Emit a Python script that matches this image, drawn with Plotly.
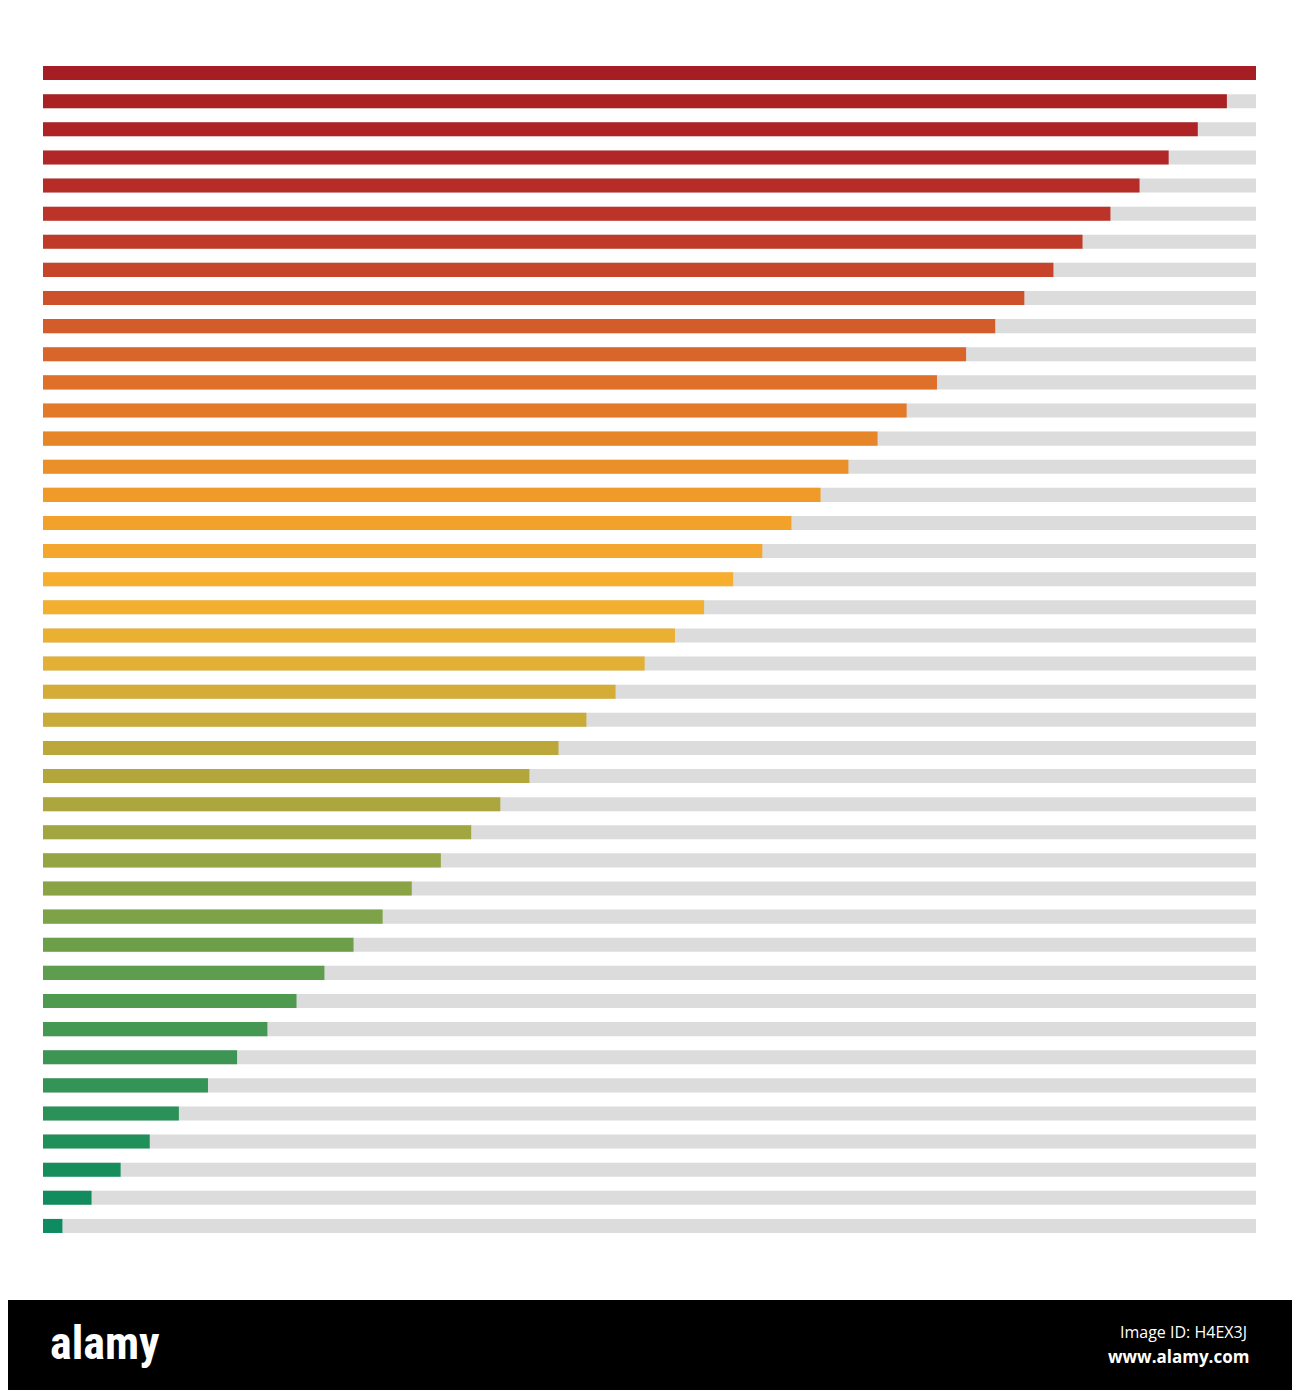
import plotly.graph_objects as go

# Data (top to bottom), percent of full length
labels = [f"Bar {i}" for i in range(1, 43)]
values = [100, 97.6, 95.2, 92.8, 90.4, 88.0, 85.7, 83.3, 80.9, 78.5,
          76.1, 73.7, 71.2, 68.8, 66.4, 64.1, 61.7, 59.3, 56.9, 54.5,
          52.1, 49.6, 47.2, 44.8, 42.5, 40.1, 37.7, 35.3, 32.8, 30.4,
          28.0, 25.6, 23.2, 20.9, 18.5, 16.0, 13.6, 11.2, 8.8, 6.4,
          4.0, 1.6]
full = [100] * len(values)

# colour stops keyed by bar index (0 = top bar)
stops = [(0, (166, 30, 35)), (3, (177, 38, 39)), (6, (192, 58, 42)),
         (9, (211, 92, 43)), (12, (227, 122, 41)), (15, (239, 154, 41)),
         (18, (247, 174, 46)), (19, (243, 176, 48)), (21, (225, 176, 52)),
         (24, (188, 168, 58)), (27, (162, 166, 64)), (30, (125, 162, 72)),
         (33, (78, 154, 79)), (36, (52, 147, 87)), (39, (22, 142, 92)),
         (41, (14, 139, 96))]

def colour(i):
    for (p0, c0), (p1, c1) in zip(stops, stops[1:]):
        if p0 <= i <= p1:
            f = (i - p0) / (p1 - p0)
            c = [round(a + (b - a) * f) for a, b in zip(c0, c1)]
            return f"rgb({c[0]},{c[1]},{c[2]})"
    return "rgb(14,139,96)"

n = len(values)
colors = [colour(i) for i in range(n)]

fig = go.Figure()
fig.add_trace(go.Bar(y=labels, x=full, orientation="h",
                     marker=dict(color="#dcdcdc", line=dict(width=0)),
                     hoverinfo="skip", showlegend=False))
fig.add_trace(go.Bar(y=labels, x=values, orientation="h",
                     marker=dict(color=colors, line=dict(width=0)),
                     showlegend=False))

# page is offset by 8px body margin
OFF = 8
W, H = 1300 - OFF, 1390 - OFF
ml, mt = 43 - OFF, 59 - OFF
mr = W - (1256 - OFF)
mb = H - (1240 - OFF)
pw, ph = W - ml - mr, H - mt - mb

def px(x):
    return (x - OFF - ml) / pw

def py(y):
    return (H - mb - (y - OFF)) / ph

fig.update_layout(
    width=W, height=H,
    margin=dict(l=ml, r=mr, t=mt, b=mb, pad=0),
    paper_bgcolor="white", plot_bgcolor="white",
    barmode="overlay", bargap=0.5,
    xaxis=dict(range=[0, 100], visible=False, fixedrange=True),
    yaxis=dict(autorange="reversed", visible=False, type="category"),
    shapes=[dict(type="rect", xref="paper", yref="paper",
                 x0=px(0), x1=px(1300), y0=py(1300), y1=py(1390),
                 fillcolor="black", line=dict(width=0), layer="above")],
    annotations=[
        dict(xref="paper", yref="paper", x=px(48), y=py(1343), xanchor="left",
             yanchor="middle", showarrow=False, text="<b>alamy</b>",
             font=dict(family="Liberation Sans Narrow, Roboto Condensed, Arial Narrow, sans-serif",
                       size=46, color="white")),
        dict(xref="paper", yref="paper", x=px(1249), y=py(1332), xanchor="right",
             yanchor="middle", showarrow=False, text="Image ID: H4EX3J",
             font=dict(family="Open Sans, sans-serif", size=16, color="white")),
        dict(xref="paper", yref="paper", x=px(1251), y=py(1356), xanchor="right",
             yanchor="middle", showarrow=False, text="<b>www.alamy.com</b>",
             font=dict(family="Open Sans, sans-serif", size=17, color="white")),
    ],
)

fig.write_html("out.html")
